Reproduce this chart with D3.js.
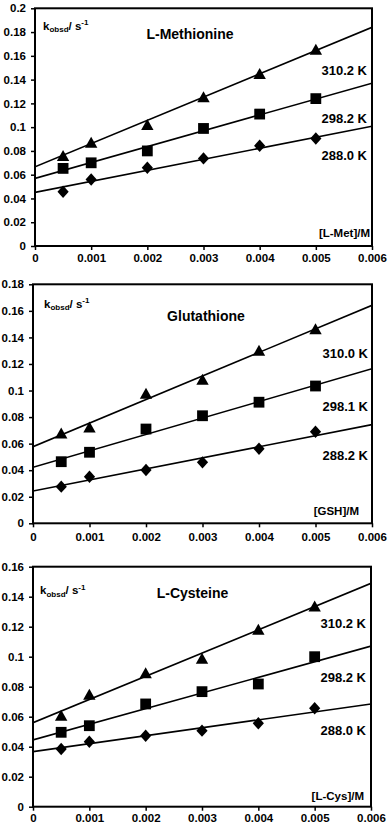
<!DOCTYPE html>
<html><head><meta charset="utf-8">
<script src="https://cdn.jsdelivr.net/npm/d3@7/dist/d3.min.js"></script>
<style>
body{margin:0;background:#fff}
svg{display:block}
text{font-family:"Liberation Sans",Arial,Helvetica,sans-serif;font-weight:bold;fill:#000}
</style>
</head><body>
<svg id="chart" width="388" height="829"></svg>
<script>
// ---------- data ----------
const concentrations = [0.0005, 0.001, 0.002, 0.003, 0.004, 0.005];
const xTicks = [0, 0.001, 0.002, 0.003, 0.004, 0.005, 0.006];
const xTickLabels = ["0", "0.001", "0.002", "0.003", "0.004", "0.005", "0.006"];
const fitX = [0, 0.006];

// L-Methionine
const metTitle = "L-Methionine";
const metAxisLabel = "[L-Met]/M";
const metTemps = ["310.2 K", "298.2 K", "288.0 K"];
const met310 = [0.0756, 0.0868, 0.1017, 0.125, 0.1445, 0.165];
const met298 = [0.0653, 0.070, 0.080, 0.0989, 0.111, 0.124];
const met288 = [0.0456, 0.056, 0.0658, 0.0737, 0.0843, 0.0905];
const metFit310 = [0.0666, 0.184];
const metFit298 = [0.0569, 0.137];
const metFit288 = [0.0451, 0.1008];
const metYTicks = [0, 0.02, 0.04, 0.06, 0.08, 0.1, 0.12, 0.14, 0.16, 0.18, 0.2];
const metYTickLabels = ["0", "0.02", "0.04", "0.06", "0.08", "0.1", "0.12", "0.14", "0.16", "0.18", "0.2"];

// Glutathione
const gshTitle = "Glutathione";
const gshAxisLabel = "[GSH]/M";
const gshTemps = ["310.0 K", "298.1 K", "288.2 K"];
const gsh310 = [0.0675, 0.072, 0.0974, 0.108, 0.1298, 0.146];
const gsh298 = [0.0464, 0.0535, 0.071, 0.081, 0.0912, 0.1034];
const gsh288 = [0.0276, 0.0351, 0.0401, 0.0459, 0.0562, 0.069];
const gshFit310 = [0.0577, 0.1642];
const gshFit298 = [0.0422, 0.1164];
const gshFit288 = [0.0243, 0.0743];
const gshYTicks = [0, 0.02, 0.04, 0.06, 0.08, 0.1, 0.12, 0.14, 0.16, 0.18];
const gshYTickLabels = ["0", "0.02", "0.04", "0.06", "0.08", "0.1", "0.12", "0.14", "0.16", "0.18"];

// L-Cysteine
const cysTitle = "L-Cysteine";
const cysAxisLabel = "[L-Cys]/M";
const cysTemps = ["310.2 K", "298.2 K", "288.0 K"];
const cys310 = [0.0605, 0.0745, 0.0889, 0.0985, 0.1178, 0.1333];
const cys298 = [0.0496, 0.054, 0.0685, 0.0767, 0.0818, 0.1];
const cys288 = [0.0385, 0.0433, 0.0473, 0.0507, 0.0556, 0.0656];
const cysFit310 = [0.056, 0.1489];
const cysFit298 = [0.0445, 0.1071];
const cysFit288 = [0.0367, 0.0685];
const cysYTicks = [0, 0.02, 0.04, 0.06, 0.08, 0.1, 0.12, 0.14, 0.16];
const cysYTickLabels = ["0", "0.02", "0.04", "0.06", "0.08", "0.1", "0.12", "0.14", "0.16"];

// ---------- layout ----------
const panels = [
  {title: metTitle, axisLabel: metAxisLabel, temps: metTemps,
   series: [met310, met298, met288], fits: [metFit310, metFit298, metFit288],
   yTicks: metYTicks, yTickLabels: metYTickLabels,
   x0: 35, x1: 372, yBot: 246, yTop: 8.3, xPad: 4,
   titleX: 190, titleY: 39, kX: 43, kY: 29.5,
   tempY: [74.5, 122.5, 159.5], tempX: 367, labX: 370, labY: 237},
  {title: gshTitle, axisLabel: gshAxisLabel, temps: gshTemps,
   series: [gsh310, gsh298, gsh288], fits: [gshFit310, gshFit298, gshFit288],
   yTicks: gshYTicks, yTickLabels: gshYTickLabels,
   x0: 33, x1: 372, yBot: 523.3, yTop: 284.3, xPad: 6,
   titleX: 206, titleY: 320.5, kX: 44, kY: 307.5,
   tempY: [358, 410.5, 459.5], tempX: 368, labX: 359, labY: 514.5},
  {title: cysTitle, axisLabel: cysAxisLabel, temps: cysTemps,
   series: [cys310, cys298, cys288], fits: [cysFit310, cysFit298, cysFit288],
   yTicks: cysYTicks, yTickLabels: cysYTickLabels,
   x0: 33, x1: 371, yBot: 806.7, yTop: 566.7, xPad: 3,
   titleX: 192.5, titleY: 598, kX: 40, kY: 594,
   tempY: [628, 682, 735], tempX: 366, labX: 364, labY: 799.5}
];

const svg = d3.select("#chart");

// marker paths
const markers = [
  "M0,-6.2L6.2,4.8L-6.2,4.8Z",          // triangle
  "M-5.4,-5.4H5.4V5.4H-5.4Z",           // square
  "M0,-6.2L5.6,0L0,6.2L-5.6,0Z"         // diamond
];

panels.forEach((p, pi) => {
  const yMax = p.yTicks[p.yTicks.length - 1];
  const x = d3.scaleLinear().domain([0, 0.006]).range([p.x0, p.x1]);
  const y = d3.scaleLinear().domain([0, yMax]).range([p.yBot, p.yTop]);
  const g = svg.append("g");

  const clipId = "clip" + pi;
  g.append("clipPath").attr("id", clipId).append("rect")
    .attr("x", p.x0).attr("y", p.yTop).attr("width", p.x1 - p.x0).attr("height", p.yBot - p.yTop);

  // axes
  const yAxis = d3.axisLeft(y).tickValues(p.yTicks)
    .tickFormat((d, i) => p.yTickLabels[i]).tickSize(4).tickPadding(5);
  const ya = g.append("g").attr("transform", `translate(${p.x0},0)`).call(yAxis);
  const xAxis = d3.axisBottom(x).tickValues(xTicks)
    .tickFormat((d, i) => xTickLabels[i]).tickSize(4).tickPadding(p.xPad);
  const xa = g.append("g").attr("transform", `translate(0,${p.yBot})`).call(xAxis);
  [ya, xa].forEach(a => {
    a.select(".domain").remove();
    a.selectAll(".tick line").attr("stroke", "#000").attr("stroke-width", 1.5);
    a.selectAll(".tick text").style("font-size", "11.5px").style("font-weight", "bold")
      .style("font-family", '"Liberation Sans",Arial,sans-serif').attr("fill", "#000");
  });

  // frame
  g.append("rect").attr("x", p.x0).attr("y", p.yTop)
    .attr("width", p.x1 - p.x0).attr("height", p.yBot - p.yTop)
    .attr("fill", "none").attr("stroke", "#000").attr("stroke-width", 2);

  // fit lines
  const line = d3.line().x(d => x(d[0])).y(d => y(d[1]));
  p.fits.forEach(f => {
    g.append("path").attr("clip-path", `url(#${clipId})`)
      .attr("d", line(fitX.map((xv, i) => [xv, f[i]])))
      .attr("fill", "none").attr("stroke", "#000").attr("stroke-width", 1.6);
  });

  // markers
  p.series.forEach((s, si) => {
    g.selectAll(null).data(s).enter().append("path")
      .attr("d", markers[si])
      .attr("transform", (d, i) => `translate(${x(concentrations[i])},${y(d)})`)
      .attr("fill", "#000");
  });

  // title
  g.append("text").attr("x", p.titleX).attr("y", p.titleY)
    .attr("text-anchor", "middle").style("font-size", "14px").text(p.title);

  // k_obsd / s-1
  const k = g.append("text").attr("x", p.kX).attr("y", p.kY).style("font-size", "11.5px");
  k.append("tspan").text("k");
  k.append("tspan").attr("dy", 2.5).style("font-size", "8px").text("obsd");
  k.append("tspan").attr("dy", -2.5).text("/ s");
  k.append("tspan").attr("dy", -4.5).style("font-size", "8px").text("-1");

  // temperatures
  p.temps.forEach((t, i) => {
    g.append("text").attr("x", p.tempX).attr("y", p.tempY[i])
      .attr("text-anchor", "end").style("font-size", "13px").text(t);
  });

  // axis label
  g.append("text").attr("x", p.labX).attr("y", p.labY)
    .attr("text-anchor", "end").style("font-size", "11.5px").text(p.axisLabel);
});
</script>
</body></html>
